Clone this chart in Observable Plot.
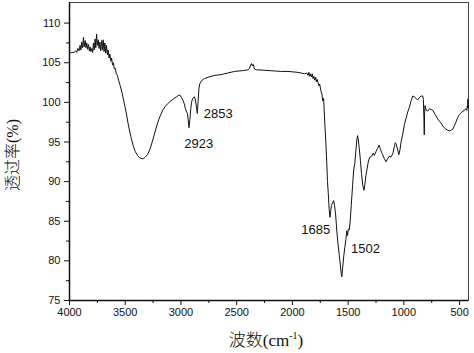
<!DOCTYPE html>
<html>
<head>
<meta charset="utf-8">
<script src="https://cdn.jsdelivr.net/npm/d3@7"></script>
<script src="https://cdn.jsdelivr.net/npm/@observablehq/plot@0.6"></script>
<style>
  html, body { margin: 0; padding: 0; background: #fff; }
  #chart svg { display: block; }
</style>
</head>
<body>
<div id="chart"></div>
<script>
// Spectrum (wavenumber in cm^-1, transmittance in %)
const wavenumber = [
  4000, 3980, 3960, 3945, 3935, 3925, 3915, 3905, 3898, 3890, 3882, 3875, 3868, 3860, 3852, 3845,
  3838, 3830, 3822, 3815, 3808, 3800, 3792, 3785, 3778, 3770, 3764, 3757, 3750, 3742, 3735, 3728,
  3720, 3712, 3705, 3698, 3690, 3683, 3675, 3668, 3660, 3652, 3645, 3638, 3630, 3622, 3614, 3606,
  3598, 3590, 3580, 3570, 3560, 3545, 3530, 3510, 3490, 3470, 3450, 3430, 3410, 3390, 3370, 3350,
  3335, 3320, 3300, 3280, 3260, 3240, 3220, 3200, 3180, 3160, 3140, 3120, 3100, 3080, 3060, 3040,
  3020, 3008, 2995, 2980, 2970, 2960, 2950, 2942, 2935, 2928, 2920, 2912, 2905, 2895, 2880, 2870,
  2862, 2853, 2846, 2838, 2830, 2810, 2790, 2750, 2700, 2640, 2580, 2520, 2450, 2400, 2385, 2375,
  2367, 2360, 2352, 2340, 2325, 2300, 2200, 2100, 2040, 1960, 1920, 1890, 1870, 1860, 1852, 1845,
  1838, 1830, 1822, 1815, 1808, 1800, 1792, 1785, 1778, 1770, 1762, 1755, 1745, 1735, 1728, 1720,
  1715, 1708, 1700, 1692, 1685, 1678, 1670, 1663, 1657, 1650, 1640, 1630, 1622, 1612, 1600, 1590,
  1580, 1570, 1562, 1556, 1550, 1540, 1530, 1520, 1512, 1505, 1498, 1490, 1482, 1472, 1460, 1450,
  1440, 1430, 1420, 1415, 1410, 1400, 1390, 1380, 1368, 1358, 1350, 1340, 1330, 1318, 1305, 1290,
  1275, 1265, 1250, 1235, 1222, 1212, 1200, 1190, 1175, 1160, 1145, 1130, 1116, 1100, 1085, 1077,
  1068, 1055, 1045, 1035, 1025, 1010, 995, 980, 965, 950, 935, 920, 905, 890, 876, 860,
  845, 831, 825, 820, 817, 814, 810, 800, 786, 770, 755, 741, 720, 700, 680, 667,
  650, 630, 610, 592, 575, 561, 545, 530, 517, 500, 485, 470, 455, 445, 435, 430,
  428, 426, 423, 420
];
const transmittance = [
  106.2, 106.3, 106.3, 106.5, 106.3, 106.8, 106.5, 107.2, 106.6, 107.6, 106.9, 108.2, 107.0, 107.8, 106.9, 107.5,
  106.7, 107.3, 106.5, 107.0, 106.4, 106.8, 106.3, 107.5, 106.6, 108.0, 106.9, 108.6, 107.2, 107.9, 106.8, 107.6,
  106.5, 107.8, 106.6, 107.9, 106.4, 107.5, 106.2, 107.2, 106.0, 106.6, 105.6, 106.1, 105.2, 105.6, 104.7, 105.0,
  104.2, 104.3, 103.6, 103.4, 102.8, 102.1, 101.3, 100.0, 98.6, 97.0, 95.7, 94.6, 93.8, 93.3, 93.0, 92.9,
  92.9, 93.1, 93.4, 94.0, 94.9, 95.9, 96.9, 97.8, 98.5, 99.1, 99.5, 99.8, 100.1, 100.3, 100.5, 100.7,
  100.9, 100.9, 100.6, 100.2, 99.8, 99.2, 98.8, 98.6, 97.8, 96.8, 97.8, 99.2, 100.0, 100.5, 100.7, 100.3,
  99.5, 98.6, 100.2, 101.8, 102.4, 102.8, 103.0, 103.2, 103.4, 103.5, 103.7, 103.9, 104.0, 104.1, 104.3, 104.7,
  104.9, 104.6, 104.8, 104.2, 104.1, 104.1, 104.0, 103.9, 103.9, 103.8, 103.7, 103.6, 103.7, 103.4, 103.8, 103.3,
  103.6, 103.2, 103.6, 103.0, 103.3, 102.8, 103.2, 102.6, 102.9, 102.5, 102.1, 102.3, 101.5, 101.0, 100.2, 100.5,
  99.0, 97.0, 95.0, 92.5, 90.0, 88.5, 86.5, 85.5, 86.2, 87.0, 87.3, 87.6, 87.0, 85.8, 83.5, 82.0,
  80.8, 79.5, 78.4, 78.0, 79.0, 80.5, 81.7, 82.7, 83.8, 83.2, 84.0, 83.9, 84.9, 87.0, 89.5, 91.5,
  92.3, 94.0, 95.5, 95.8, 95.4, 94.2, 92.7, 91.0, 89.5, 88.9, 89.6, 90.8, 91.6, 92.6, 93.1, 93.2,
  93.6, 93.3, 93.8, 94.2, 94.6, 94.2, 93.7, 93.4, 92.9, 92.5, 92.9, 93.2, 93.1, 93.5, 94.4, 94.9,
  94.7, 94.0, 93.4, 94.0, 95.0, 96.0, 97.2, 98.0, 98.8, 99.4, 100.2, 100.8, 100.7, 100.5, 100.3, 100.6,
  100.8, 100.8, 100.4, 98.0, 95.9, 98.5, 99.6, 99.0, 98.9, 99.2, 99.1, 99.0, 98.5, 98.0, 97.6, 97.4,
  97.0, 96.7, 96.5, 96.4, 96.5, 96.6, 97.1, 97.6, 98.1, 98.5, 98.7, 98.9, 99.0, 99.2, 99.0, 99.5,
  99.3, 100.4, 99.5, 99.3
];

// Peak annotations
const peakLabels = ["2923", "2853", "1685", "1502"];
const peakLabelX = [2841, 2666, 1790, 1345];
const peakLabelY = [94.8, 98.6, 83.9, 81.5];

// Axis ticks
const xTicks = [4000, 3500, 3000, 2500, 2000, 1500, 1000, 500];
const xMinorTicks = [3750, 3250, 2750, 2250, 1750, 1250, 750];
const yTicks = [75, 80, 85, 90, 95, 100, 105, 110];
const yMinorTicks = [77.5, 82.5, 87.5, 92.5, 97.5, 102.5, 107.5];

const spectrum = wavenumber.map((w, i) => ({w, t: transmittance[i]}));
const peaks = peakLabels.map((label, i) => ({label, x: peakLabelX[i], y: peakLabelY[i]}));

const chart = Plot.plot({
  width: 474,
  height: 353,
  marginLeft: 69,
  marginRight: 6,
  marginTop: 2,
  marginBottom: 53,
  style: {fontFamily: "'Liberation Sans', Arial, sans-serif", fontSize: "11px", color: "#111", background: "#fff"},
  x: {domain: [4000, 420]},
  y: {domain: [75, 112.6]},
  marks: [
    Plot.frame({stroke: "#444", strokeWidth: 1}),
    Plot.axisX({ticks: xTicks, tickSize: 5, tickPadding: 3, tickFormat: d => String(d), label: null, fontSize: 11, stroke: "#111"}),
    Plot.axisX({ticks: xMinorTicks, tickSize: 3, tickFormat: () => "", label: null, stroke: "#111"}),
    Plot.axisY({ticks: yTicks, tickSize: 5, tickPadding: 4, tickFormat: d => String(d), label: null, fontSize: 11, stroke: "#111"}),
    Plot.axisY({ticks: yMinorTicks, tickSize: 3, tickFormat: () => "", label: null, stroke: "#111"}),
    Plot.ruleX([4000], {stroke: "#111", strokeWidth: 1.5}),
    Plot.ruleY([75], {stroke: "#111", strokeWidth: 1.5}),
    Plot.line(spectrum, {x: "w", y: "t", stroke: "#111", strokeWidth: 1}),
    Plot.text(peaks, {x: "x", y: "y", text: "label", fontSize: 13, fill: "#111"})
  ]
});

document.getElementById("chart").appendChild(chart);

// Axis titles (serif Latin, CJK falls back to Noto Sans CJK)
const svg = d3.select(chart);
const cjk = "'Liberation Serif', 'DejaVu Serif', 'Noto Sans CJK SC', serif";
const xl = svg.append("text")
  .attr("x", 266).attr("y", 346)
  .attr("text-anchor", "middle")
  .attr("font-family", cjk)
  .attr("font-size", 17)
  .attr("font-weight", 300)
  .attr("fill", "#111");
xl.append("tspan").text("波数(cm");
xl.append("tspan").attr("dy", -7).attr("font-size", 10).text("-1");
xl.append("tspan").attr("dy", 7).text(")");

svg.append("text")
  .attr("transform", "translate(18,155) rotate(-90)")
  .attr("text-anchor", "middle")
  .attr("font-family", cjk)
  .attr("font-size", 16)
  .attr("font-weight", 300)
  .attr("fill", "#111")
  .text("透过率(%)");
</script>
</body>
</html>
